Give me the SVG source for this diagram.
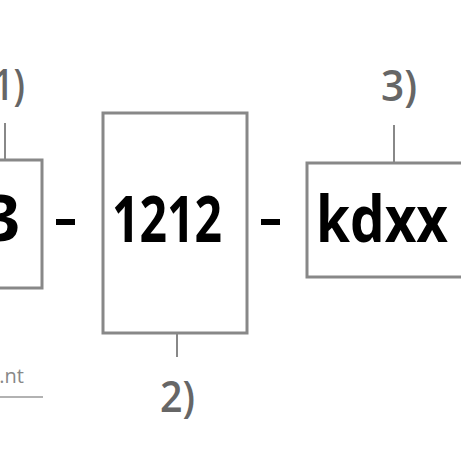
<svg xmlns="http://www.w3.org/2000/svg" width="461" height="461" viewBox="0 0 461 461">
<style>
.box{fill:#fff;stroke:#888;stroke-width:3}
.lead{stroke:#888;stroke-width:2}
.big{font-family:"Open Sans","DejaVu Sans",sans-serif;font-weight:700;font-size:64px;fill:#000}
.lbl{font-family:"Open Sans","DejaVu Sans",sans-serif;font-weight:600;font-size:44px;fill:#666}
.dash{stroke:#000;stroke-width:6}
</style>
<rect width="461" height="461" fill="#fff"/>
<g id="connectors">
<line class="lead" x1="5" y1="123" x2="5" y2="160"/>
<line class="lead" x1="177" y1="333" x2="177" y2="357"/>
<line class="lead" x1="394" y1="125" x2="394" y2="163"/>
<line class="dash" x1="56" y1="222" x2="75" y2="222"/>
<line class="dash" x1="261" y1="222" x2="280" y2="222"/>
</g>
<g id="node1">
<rect class="box" x="-20" y="160" width="62" height="128"/>
<text class="big" x="20" y="241" text-anchor="end">3</text>
<text class="lbl" x="25" y="100" text-anchor="end" textLength="32" lengthAdjust="spacingAndGlyphs">1)</text>
</g>
<g id="node2">
<rect class="box" x="103" y="113" width="144" height="220"/>
<text class="big" x="112" y="242" textLength="110" lengthAdjust="spacingAndGlyphs">1212</text>
<text class="lbl" x="160" y="412" textLength="35" lengthAdjust="spacingAndGlyphs">2)</text>
</g>
<g id="node3">
<rect class="box" x="307" y="163" width="170" height="114"/>
<text class="big" x="316" y="242" textLength="132" lengthAdjust="spacingAndGlyphs">kdxx</text>
<text class="lbl" x="381" y="101" textLength="36" lengthAdjust="spacingAndGlyphs">3)</text>
</g>
<g id="footer">
<text x="24" y="383" text-anchor="end" font-family="Open Sans, DejaVu Sans, sans-serif" font-size="20" fill="#888">.nt</text>
<line x1="0" y1="397" x2="43" y2="397" stroke="#999" stroke-width="1.5"/>
</g>
</svg>
